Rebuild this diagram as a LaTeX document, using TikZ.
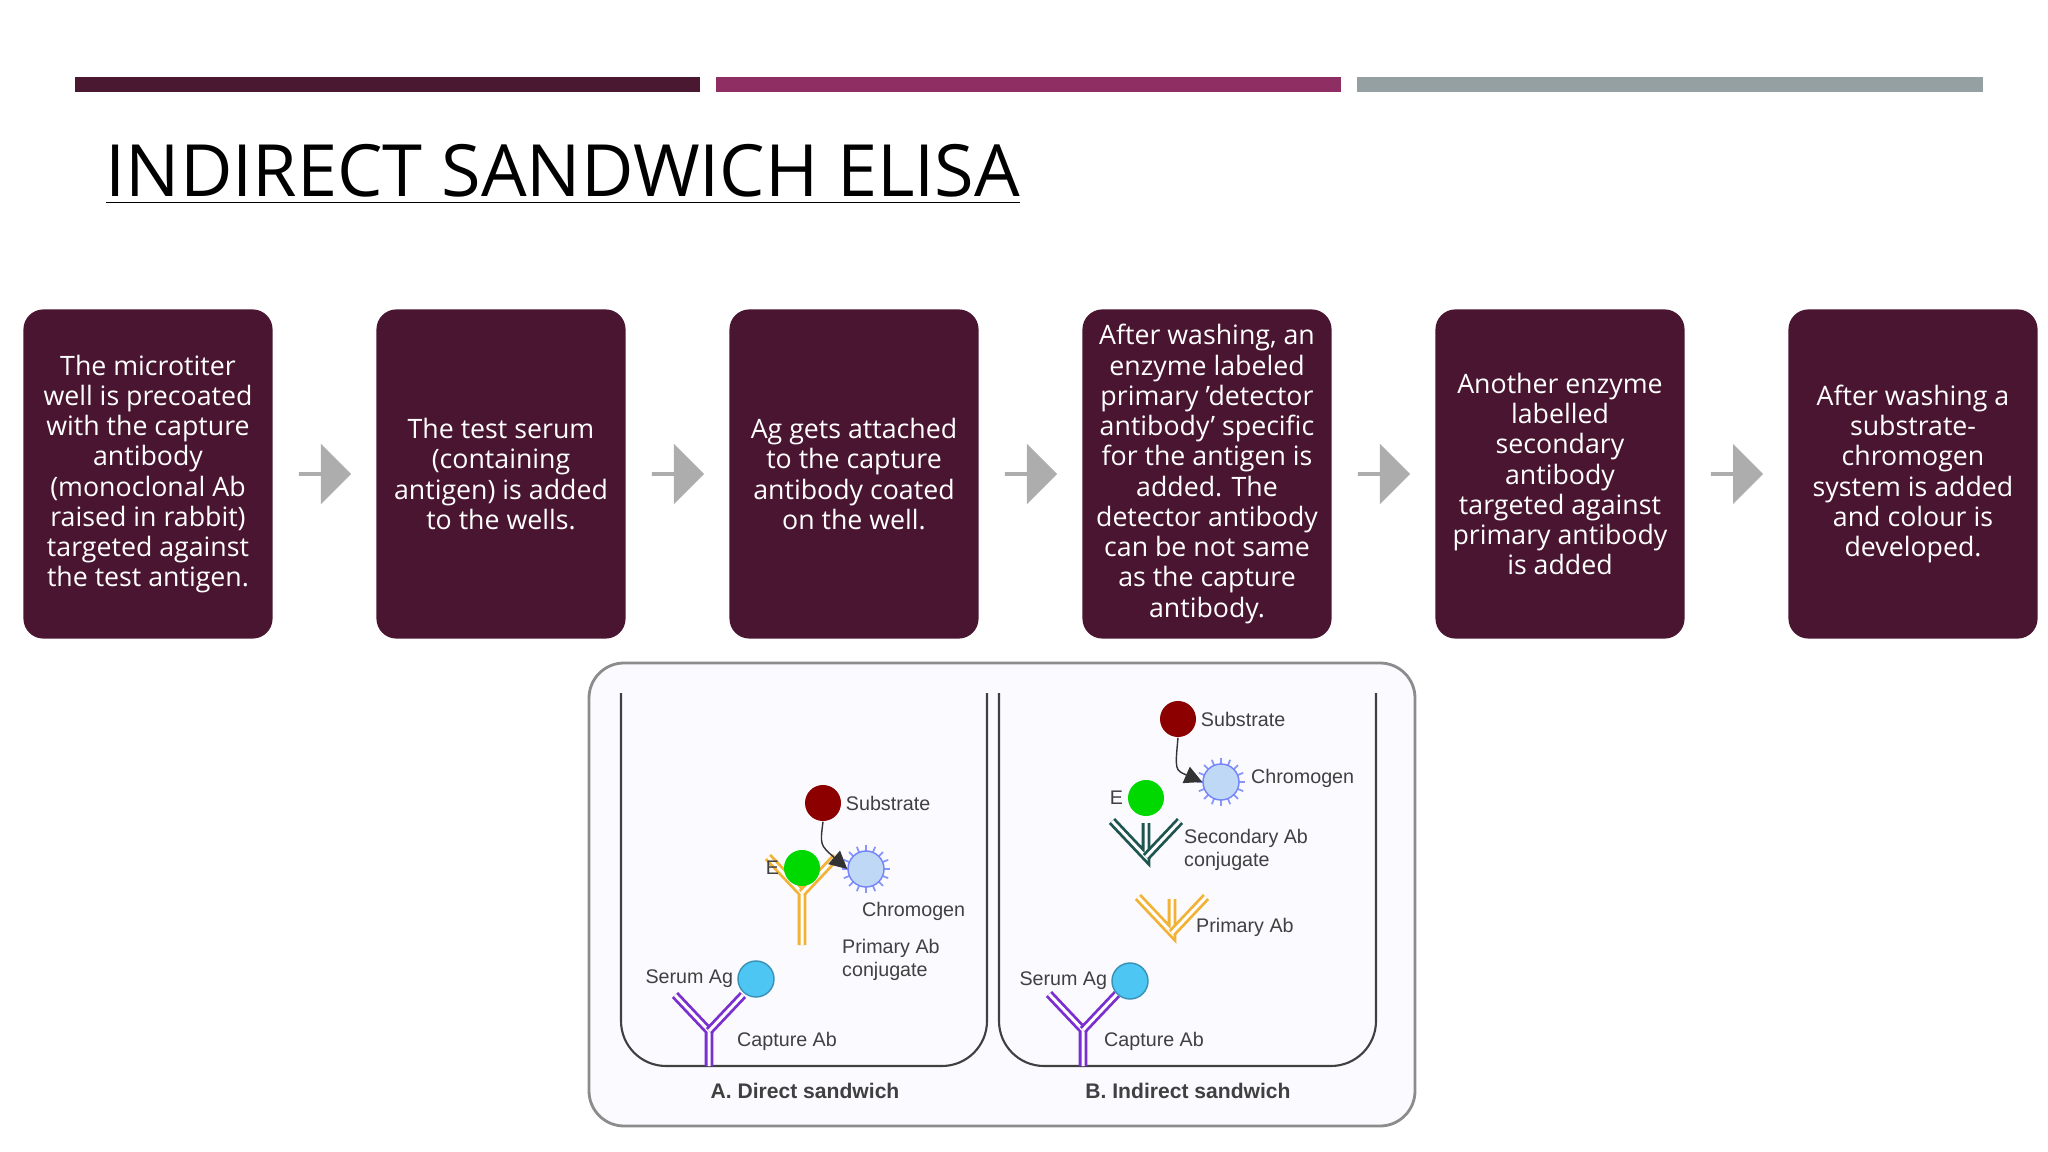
\documentclass[tikz,border=0pt]{standalone}
\usepackage{fontspec}
\setmainfont{Open Sans}
\newfontfamily\labfont{Liberation Sans}
\usetikzlibrary{shapes.arrows,arrows.meta}
\definecolor{plum}{HTML}{4A1530}
\definecolor{barone}{HTML}{4A1830}
\definecolor{bartwo}{HTML}{8E2E62}
\definecolor{barthree}{HTML}{95A0A3}
\definecolor{abpurple}{HTML}{7B2FD0}
\definecolor{abyellow}{HTML}{F2B236}
\definecolor{abteal}{HTML}{1F5550}
\definecolor{chromo}{HTML}{BFD8F5}
\newcommand\antibody[4]{% colour, x, stem top y, stem bottom y
  \draw [ab=#1] (#2,#4) -- (#2,#3) -- ++(-34,-36);
  \draw [ab=#1] (#2,#3) -- ++(34,-36);
}
\newcommand\chromogen[3]{% name, x, y
  \foreach \a in {0,22.5,...,359} \draw [chromo!70!blue, line width=0.5pt] (#2,#3) ++(\a:15) -- ++(\a:9);
  \node [ball, fill=chromo, draw=chromo!60!blue] (#1) at (#2,#3) {};
}
\begin{document}
\begin{tikzpicture}[x=0.01cm, y=-0.01cm,
    stepbox/.style={draw=none, fill=plum, rounded corners=0.2cm, minimum width=2.49cm, minimum height=3.29cm,
      text=white, align=center, font=\fontsize{7.6}{8.6}\selectfont},
    next/.style={single arrow, fill=black!32, minimum width=0.6cm, minimum height=0.52cm,
      single arrow head extend=0.1cm, inner sep=0pt},
    ball/.style={circle, minimum size=0.36cm, inner sep=0pt},
    lab/.style={font=\labfont\fontsize{5.6}{6.4}\selectfont, text=black!75, align=left, inner sep=1pt},
    ab/.style={draw=#1, double=white, double distance=0.03cm, line width=0.028cm},
    well/.style={draw=black!75, line width=0.6pt, rounded corners=0.45cm}]
  \useasboundingbox (0,0) rectangle (2048,1152);

  % Title bars and title
  \fill [barone] (75,77) rectangle (700,92);
  \fill [bartwo] (716,77) rectangle (1341,92);
  \fill [barthree] (1357,77) rectangle (1983,92);
  \node [anchor=base west, inner sep=0pt, font=\fontsize{20.5}{24}\selectfont] (title) at (105,197)
    {\underline{INDIRECT SANDWICH ELISA}};

  % Steps
  \node [stepbox] (s1) at (148,474) {The microtiter\\well is precoated\\with the capture\\antibody\\(monoclonal Ab\\raised in rabbit)\\targeted against\\the test antigen.};
  \node [stepbox] (s2) at (501,474) {The test serum\\(containing\\antigen) is added\\to the wells.};
  \node [stepbox] (s3) at (854,474) {Ag gets attached\\to the capture\\antibody coated\\on the well.};
  \node [stepbox] (s4) at (1207,474) {After washing, an\\enzyme labeled\\primary 'detector\\antibody' specific\\for the antigen is\\added. The\\detector antibody\\can be not same\\as the capture\\antibody.};
  \node [stepbox] (s5) at (1560,474) {Another enzyme\\labelled\\secondary\\antibody\\targeted against\\primary antibody\\is added};
  \node [stepbox] (s6) at (1913,474) {After washing a\\substrate-\\chromogen\\system is added\\and colour is\\developed.};
  \foreach \i [evaluate=\i as \x using 148+176+353*(\i-1)] in {1,...,5}
    \node [next] (n\i) at (\x,474) {};

  % Figure panel
  \draw [black!45, line width=0.8pt, fill=blue!2, rounded corners=0.35cm] (589,663) rectangle (1415,1126);
  \draw [well] (621,693) -- (621,1066) -- (987,1066) -- (987,693);
  \draw [well] (999,693) -- (999,1066) -- (1376,1066) -- (1376,693);

  % A. Direct sandwich
  \antibody{abpurple}{709}{1031}{1066}
  \antibody{abyellow}{802}{893}{945}
  \node [ball, fill=cyan!70!white, draw=cyan!70!black] (agA) at (756,979) {};
  \node [ball, fill=green!85!black] (eA) at (802,868) {};
  \node [ball, fill=red!55!black] (subA) at (823,803) {};
  \chromogen{chA}{866}{869}
  \draw [-{Triangle[length=5pt,width=5pt]}, black!80] (subA.south) .. controls (820,845) .. (chA.west);
  \node [lab, anchor=west] at (subA.east) {Substrate};
  \node [lab, anchor=east] at (eA.west) {E};
  \node [lab, anchor=west] at (858,911) {Chromogen};
  \node [lab, anchor=west] at (838,960) {Primary Ab\\conjugate};
  \node [lab, anchor=east] at (agA.west) {Serum Ag};
  \node [lab, anchor=west] at (733,1041) {Capture Ab};
  \node [lab, font=\labfont\bfseries\fontsize{6}{7}\selectfont] (capA) at (805,1091) {A. Direct sandwich};

  % B. Indirect sandwich
  \antibody{abpurple}{1083}{1030}{1066}
  \antibody{abyellow}{1172}{933}{899}
  \antibody{abteal}{1146}{857}{823}
  \node [ball, fill=cyan!70!white, draw=cyan!70!black] (agB) at (1130,981) {};
  \node [ball, fill=green!85!black] (eB) at (1146,798) {};
  \node [ball, fill=red!55!black] (subB) at (1178,719) {};
  \chromogen{chB}{1221}{782}
  \draw [-{Triangle[length=5pt,width=5pt]}, black!80] (subB.south) .. controls (1175,770) .. (chB.west);
  \node [lab, anchor=west] at (subB.east) {Substrate};
  \node [lab, anchor=east] at (eB.west) {E};
  \node [lab, anchor=west] at (1247,778) {Chromogen};
  \node [lab, anchor=west] at (1180,850) {Secondary Ab\\conjugate};
  \node [lab, anchor=west] at (1192,927) {Primary Ab};
  \node [lab, anchor=east] at (agB.west) {Serum Ag};
  \node [lab, anchor=west] at (1100,1041) {Capture Ab};
  \node [lab, font=\labfont\bfseries\fontsize{6}{7}\selectfont] (capB) at (1188,1091) {B. Indirect sandwich};
\end{tikzpicture}
\end{document}
